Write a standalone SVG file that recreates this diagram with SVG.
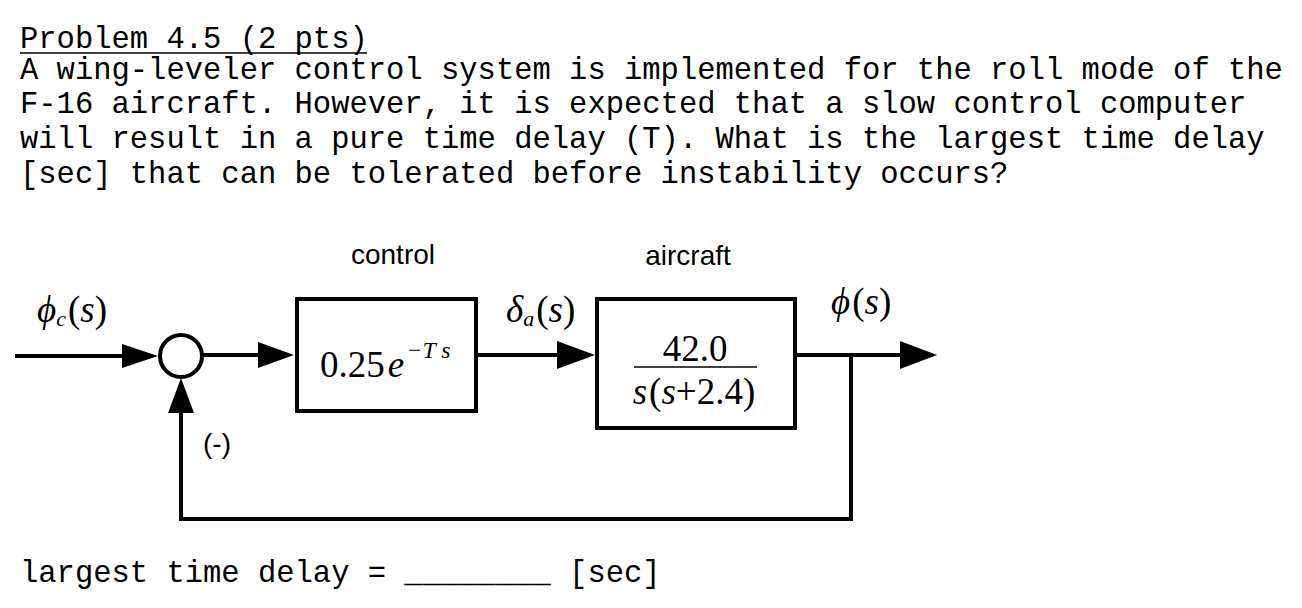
<svg xmlns="http://www.w3.org/2000/svg" width="1302" height="608" viewBox="0 0 1302 608">
<defs>
<style>
.m{font-family:"Liberation Mono",monospace;font-size:30.5px;fill:#000}
.h{font-family:"Liberation Sans",Arial,sans-serif;font-size:28px;fill:#000}
.x{font-family:"Liberation Serif","DejaVu Serif",serif;font-size:37px;fill:#000}
.i{font-style:italic}
.b{fill:#fff;stroke:#000;stroke-width:4}
.c{fill:none;stroke:#000;stroke-width:4}
</style>
</defs>
<rect width="1302" height="608" fill="#fff"/>
<text class="m" x="20" y="48">Problem 4.5 (2 pts)</text>
<line x1="20" y1="53" x2="367" y2="53" stroke="#000" stroke-width="1.5"/>
<text class="m" x="20" y="79">A wing-leveler control system is implemented for the roll mode of the</text>
<text class="m" x="20" y="113">F-16 aircraft. However, it is expected that a slow control computer</text>
<text class="m" x="20" y="148">will result in a pure time delay (T). What is the largest time delay</text>
<text class="m" x="20" y="183">[sec] that can be tolerated before instability occurs?</text>
<text class="m" x="20" y="582">largest time delay = ________ [sec]</text>
<g id="connectors">
<line class="c" x1="15" y1="356" x2="130" y2="356"/>
<path d="M122,344L158,356L122,368z"/>
<line class="c" x1="202" y1="355" x2="260" y2="355"/>
<path d="M258,342L294,355L258,368z"/>
<line class="c" x1="478" y1="355" x2="560" y2="355"/>
<path d="M557,341L595,355L557,369z"/>
<line class="c" x1="797" y1="355" x2="905" y2="355"/>
<path d="M900,341L937,355L900,369z"/>
<path class="c" d="M851,355V519H181V410"/>
<path d="M168,413L181,378L194,413z"/>
</g>
<g id="sum"><circle class="b" cx="181" cy="356" r="21"/></g>
<g id="control">
<rect class="b" x="297" y="299" width="179" height="112"/>
<text class="h" x="393" y="264" text-anchor="middle">control</text>
<text class="x" x="320" y="377">0.25<tspan class="i" dx="3">e</tspan><tspan class="i" font-size="24" dy="-19" dx="2">−T s</tspan></text>
</g>
<g id="aircraft">
<rect class="b" x="597" y="299" width="198" height="129"/>
<text class="h" x="688" y="265" text-anchor="middle">aircraft</text>
<text class="x" x="695" y="361" text-anchor="middle">42.0</text>
<line x1="634" y1="367" x2="757" y2="367" stroke="#000" stroke-width="1.5"/>
<text class="x" x="694" y="404" text-anchor="middle"><tspan class="i">s</tspan><tspan dx="2">(</tspan><tspan class="i">s</tspan>+2.4)</text>
</g>
<g id="labels">
<text class="x i" x="37" y="322">ϕ<tspan font-size="22" dy="4">c</tspan><tspan font-style="normal" dy="-4" dx="2">(</tspan>s<tspan font-style="normal">)</tspan></text>
<text class="x i" x="506" y="322">δ<tspan font-size="22" dy="4">a</tspan><tspan font-style="normal" dy="-4" dx="2">(</tspan>s<tspan font-style="normal">)</tspan></text>
<text class="x i" x="831" y="314">ϕ<tspan font-style="normal" dx="2">(</tspan>s<tspan font-style="normal">)</tspan></text>
<text class="h" x="203" y="453">(-)</text>
</g>
</svg>
